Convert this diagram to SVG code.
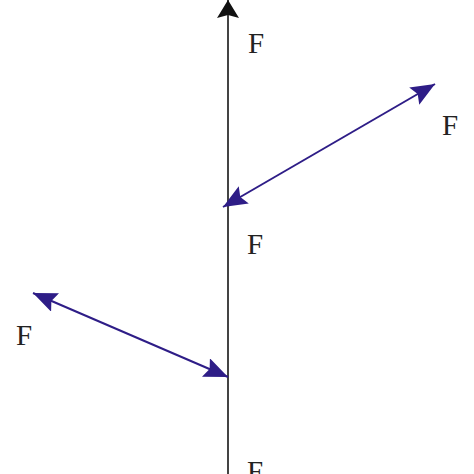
<svg xmlns="http://www.w3.org/2000/svg" width="474" height="474" viewBox="0 0 474 474">
<style>
.lbl{font-family:"Liberation Serif","Times New Roman",serif;font-size:29px;fill:#222}
.blue{stroke:#2e1d87;stroke-width:2;fill:none}
.blk{stroke:#444;stroke-width:2;fill:none}
</style>
<defs>
<marker id="ab" viewBox="0 0 24 20" refX="24" refY="10" markerWidth="24" markerHeight="20" markerUnits="userSpaceOnUse" orient="auto-start-reverse">
<path d="M0,0 L24,10 L0,20 L4,10 Z" fill="#2e1d87"/>
</marker>
<marker id="ak" viewBox="0 0 18 22" refX="18" refY="11" markerWidth="18" markerHeight="22" markerUnits="userSpaceOnUse" orient="auto">
<path d="M0,0 L18,11 L0,22 L3,11 Z" fill="#111"/>
</marker>
</defs>
<g id="connectors">
<line class="blk" x1="228" y1="474" x2="228" y2="0" marker-end="url(#ak)"/>
<line class="blue" x1="223" y1="207" x2="435" y2="84" marker-start="url(#ab)" marker-end="url(#ab)"/>
<line class="blue" x1="33" y1="293" x2="228" y2="377" marker-start="url(#ab)" marker-end="url(#ab)"/>
</g>
<g id="labels">
<text class="lbl" x="248" y="53">F</text>
<text class="lbl" x="442" y="135">F</text>
<text class="lbl" x="247" y="254">F</text>
<text class="lbl" x="16" y="345">F</text>
<text class="lbl" x="247" y="481">F</text>
</g>
</svg>
